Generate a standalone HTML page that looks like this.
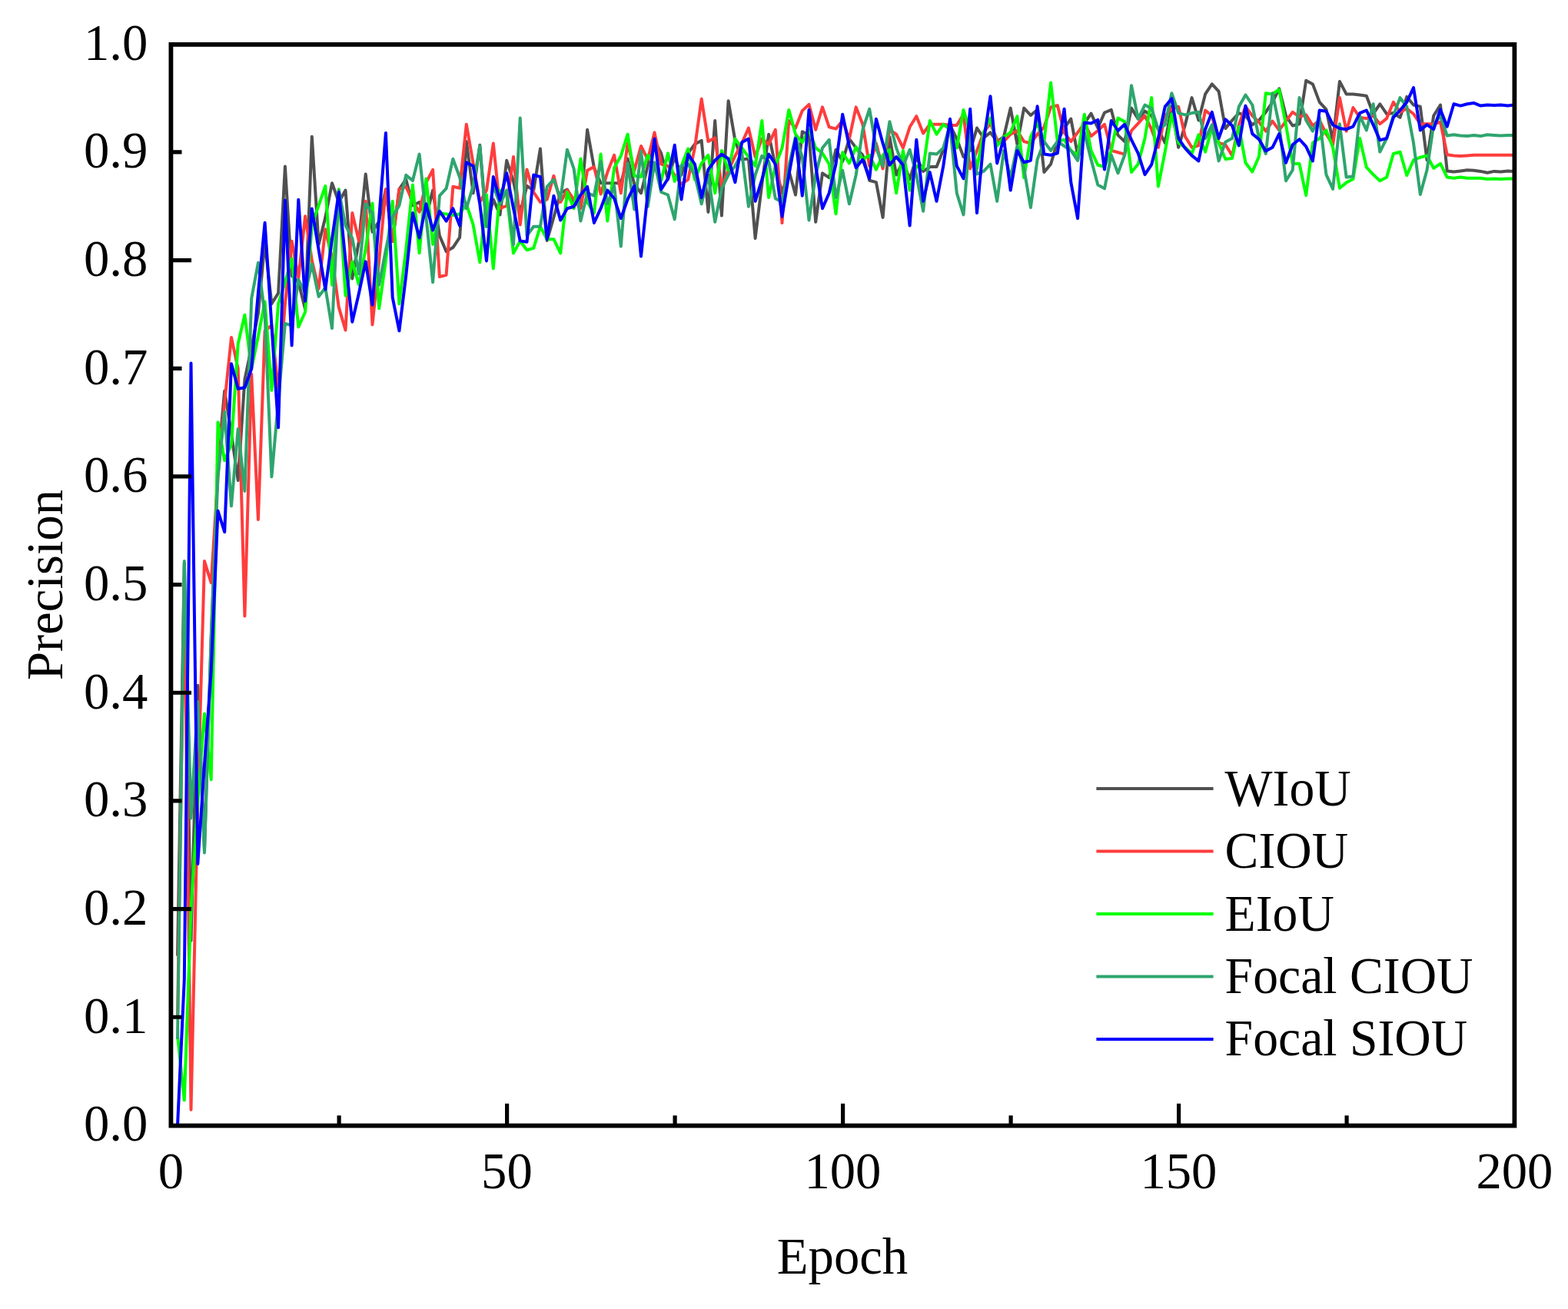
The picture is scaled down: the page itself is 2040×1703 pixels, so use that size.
<!DOCTYPE html>
<html lang="en">
<head>
<meta charset="utf-8">
<title>Precision vs Epoch</title>
<style>
html,body{margin:0;padding:0;background:#fff;}
body{width:2040px;height:1703px;overflow:hidden;}
svg{display:block;}
text{font-family:"Liberation Serif","Times New Roman",Times,serif;fill:#000;}
.tick{font-size:66.7px;}
.lab{font-size:66.7px;}
.leg{font-size:66.7px;}
</style>
</head>
<body>
<svg xmlns="http://www.w3.org/2000/svg" width="2040" height="1703" viewBox="0 0 2040 1703">
<rect x="0" y="0" width="2040" height="1703" fill="#ffffff"/>
<g fill="none" stroke-width="4.00" stroke-linejoin="round" stroke-linecap="butt">
<polyline stroke="#505050" points="231.0,1243.5 239.8,732.9 248.5,1223.8 257.3,891.8 266.0,1104.2 274.7,828.5 283.5,603.5 292.2,508.5 301.0,564.1 309.7,625.0 318.4,493.7 327.2,451.5 335.9,407.9 344.6,315.1 353.4,395.3 362.1,381.2 370.9,216.6 379.6,358.7 388.3,367.2 397.1,402.3 405.8,177.7 414.6,317.9 423.3,282.8 432.0,238.2 440.8,263.1 449.5,247.6 458.3,362.4 467.0,313.7 475.7,226.5 484.5,301.7 493.2,287.7 501.9,246.2 510.7,314.1 519.4,246.2 528.2,233.5 536.9,267.3 545.6,263.1 554.4,282.8 563.1,247.6 571.9,306.7 580.6,327.1 589.3,322.1 598.1,308.8 606.8,184.1 615.6,251.2 624.3,188.8 633.0,294.7 641.8,259.4 650.5,279.4 659.2,208.8 668.0,235.9 676.7,277.1 685.5,241.8 694.2,247.6 702.9,193.5 711.7,312.9 720.4,282.7 729.2,251.2 737.9,246.5 746.6,261.8 755.4,270.0 764.1,168.8 772.9,218.2 781.6,238.2 790.3,238.2 799.1,238.2 807.8,238.2 816.6,206.5 825.3,239.4 834.0,251.2 842.8,215.9 851.5,182.9 860.2,199.4 869.0,233.5 877.7,204.1 886.5,227.6 895.2,199.4 903.9,187.6 912.7,182.9 921.4,275.9 930.2,157.1 938.9,280.6 947.6,131.2 956.4,182.9 965.1,207.6 973.9,206.5 982.6,310.0 991.3,239.4 1000.1,174.7 1008.8,215.9 1017.5,251.2 1026.3,221.8 1035.0,253.5 1043.8,171.2 1052.5,175.9 1061.2,288.8 1070.0,225.3 1078.7,231.2 1087.5,194.7 1096.2,210.0 1104.9,180.6 1113.7,192.4 1122.4,201.8 1131.2,234.7 1139.9,237.1 1148.6,282.9 1157.4,178.2 1166.1,227.6 1174.9,210.0 1183.6,233.5 1192.3,204.1 1201.1,222.9 1209.8,217.1 1218.5,217.1 1227.3,194.7 1236.0,162.9 1244.8,180.6 1253.5,204.1 1262.2,195.9 1271.0,166.5 1279.7,179.4 1288.5,172.4 1297.2,184.1 1305.9,178.2 1314.7,140.6 1323.4,187.6 1332.2,140.6 1340.9,150.0 1349.6,142.9 1358.4,224.1 1367.1,213.5 1375.8,184.1 1384.6,166.5 1393.3,154.7 1402.1,201.8 1410.8,160.6 1419.5,147.6 1428.3,166.5 1437.0,146.5 1445.8,142.9 1454.5,175.9 1463.2,184.1 1472.0,140.6 1480.7,154.7 1489.5,144.7 1498.2,150.6 1506.9,168.2 1515.7,185.9 1524.4,138.8 1533.2,191.8 1541.9,162.4 1550.6,127.1 1559.4,156.5 1568.1,122.4 1576.8,109.4 1585.6,118.8 1594.3,167.1 1603.1,156.5 1611.8,147.1 1620.5,150.6 1629.3,162.4 1638.0,156.5 1646.8,145.9 1655.5,132.9 1664.2,115.3 1673.0,150.6 1681.7,163.5 1690.5,161.2 1699.2,104.7 1707.9,109.4 1716.7,132.9 1725.4,142.4 1734.1,183.5 1742.9,105.9 1751.6,122.4 1760.4,122.4 1769.1,123.5 1777.8,124.7 1786.6,148.2 1795.3,135.3 1804.1,148.2 1812.8,147.1 1821.5,152.9 1830.3,125.9 1839.0,136.5 1847.8,138.8 1856.5,208.2 1865.2,150.6 1874.0,136.5 1882.7,222.4 1891.4,223.5 1900.2,222.4 1908.9,221.2 1917.7,221.8 1926.4,222.9 1935.1,224.7 1943.9,222.9 1952.6,223.5 1961.4,222.4 1970.1,222.9"/>
<polyline stroke="#ff3c3c" points="231.0,1323.6 239.8,761.0 248.5,1443.8 257.3,1042.3 266.0,730.1 274.7,758.2 283.5,620.3 292.2,523.3 301.0,438.9 309.7,479.7 318.4,801.5 327.2,486.7 335.9,676.0 344.6,430.4 353.4,423.4 362.1,507.8 370.9,395.3 379.6,313.7 388.3,361.5 397.1,281.3 405.8,339.0 414.6,375.6 423.3,298.2 432.0,335.4 440.8,399.9 449.5,429.5 458.3,277.1 467.0,313.7 475.7,261.7 484.5,422.4 493.2,339.0 501.9,246.2 510.7,314.1 519.4,246.2 528.2,242.8 536.9,261.7 545.6,275.7 554.4,237.7 563.1,220.9 571.9,360.1 580.6,357.7 589.3,242.8 598.1,244.8 606.8,161.8 615.6,212.4 624.3,262.9 633.0,247.6 641.8,186.5 650.5,271.2 659.2,267.6 668.0,204.1 676.7,292.4 685.5,220.6 694.2,250.0 702.9,262.9 711.7,259.4 720.4,228.8 729.2,262.9 737.9,247.6 746.6,259.4 755.4,271.2 764.1,221.8 772.9,217.1 781.6,252.4 790.3,224.1 799.1,201.8 807.8,251.2 816.6,186.5 825.3,221.8 834.0,190.0 842.8,207.6 851.5,172.4 860.2,213.5 869.0,215.9 877.7,227.6 886.5,239.4 895.2,233.5 903.9,192.4 912.7,128.8 921.4,184.1 930.2,179.4 938.9,242.9 947.6,221.8 956.4,202.9 965.1,186.5 973.9,166.5 982.6,204.1 991.3,180.6 1000.1,187.6 1008.8,168.8 1017.5,290.0 1026.3,157.1 1035.0,166.5 1043.8,144.1 1052.5,135.9 1061.2,168.8 1070.0,139.4 1078.7,165.3 1087.5,167.6 1096.2,157.1 1104.9,180.6 1113.7,139.4 1122.4,161.8 1131.2,215.9 1139.9,186.5 1148.6,219.4 1157.4,168.8 1166.1,174.7 1174.9,192.4 1183.6,165.3 1192.3,151.2 1201.1,173.5 1209.8,161.8 1218.5,161.8 1227.3,161.8 1236.0,162.9 1244.8,162.9 1253.5,148.8 1262.2,219.4 1271.0,195.9 1279.7,172.4 1288.5,160.6 1297.2,181.8 1305.9,184.1 1314.7,174.7 1323.4,170.0 1332.2,184.1 1340.9,186.5 1349.6,174.7 1358.4,165.3 1367.1,139.4 1375.8,137.1 1384.6,172.4 1393.3,184.1 1402.1,172.4 1410.8,160.6 1419.5,177.1 1428.3,170.0 1437.0,161.8 1445.8,195.9 1454.5,198.2 1463.2,200.6 1472.0,170.0 1480.7,160.6 1489.5,150.6 1498.2,168.2 1506.9,191.8 1515.7,150.6 1524.4,141.2 1533.2,138.8 1541.9,177.6 1550.6,191.8 1559.4,189.4 1568.1,143.5 1576.8,150.6 1585.6,185.9 1594.3,188.2 1603.1,202.4 1611.8,162.4 1620.5,138.8 1629.3,150.6 1638.0,158.8 1646.8,170.6 1655.5,157.6 1664.2,169.4 1673.0,157.6 1681.7,145.9 1690.5,151.8 1699.2,149.4 1707.9,163.5 1716.7,156.5 1725.4,174.1 1734.1,188.2 1742.9,127.1 1751.6,170.6 1760.4,140.0 1769.1,152.9 1777.8,154.1 1786.6,150.6 1795.3,161.2 1804.1,154.1 1812.8,132.9 1821.5,145.9 1830.3,141.2 1839.0,148.2 1847.8,161.2 1856.5,161.2 1865.2,161.2 1874.0,158.8 1882.7,201.2 1891.4,202.4 1900.2,202.9 1908.9,202.4 1917.7,201.8 1926.4,201.8 1935.1,201.8 1943.9,201.8 1952.6,201.8 1961.4,201.8 1970.1,201.8"/>
<polyline stroke="#00ff00" points="231.0,1347.6 239.8,1431.5 248.5,1183.0 257.3,1042.3 266.0,928.4 274.7,1014.2 283.5,549.2 292.2,599.2 301.0,578.1 309.7,447.3 318.4,409.8 327.2,479.7 335.9,437.5 344.6,392.5 353.4,507.8 362.1,395.3 370.9,367.2 379.6,336.5 388.3,425.5 397.1,405.8 405.8,292.6 414.6,267.3 423.3,242.0 432.0,370.7 440.8,246.2 449.5,384.7 458.3,340.4 467.0,370.7 475.7,323.5 484.5,264.5 493.2,401.3 501.9,339.0 510.7,261.7 519.4,395.3 528.2,325.0 536.9,240.6 545.6,329.2 554.4,232.4 563.1,317.9 571.9,277.1 580.6,278.5 589.3,279.9 598.1,278.5 606.8,265.3 615.6,292.4 624.3,341.2 633.0,253.5 641.8,349.4 650.5,247.6 659.2,253.5 668.0,329.4 676.7,313.5 685.5,325.3 694.2,322.9 702.9,294.7 711.7,311.2 720.4,311.2 729.2,329.4 737.9,250.0 746.6,271.2 755.4,206.5 764.1,262.9 772.9,277.1 781.6,200.6 790.3,287.6 799.1,218.2 807.8,202.9 816.6,174.7 825.3,228.8 834.0,230.0 842.8,201.8 851.5,215.9 860.2,234.7 869.0,199.4 877.7,235.9 886.5,215.9 895.2,193.5 903.9,233.5 912.7,212.4 921.4,201.8 930.2,251.2 938.9,195.9 947.6,221.8 956.4,180.6 965.1,192.4 973.9,204.1 982.6,215.9 991.3,157.1 1000.1,257.1 1008.8,215.9 1017.5,192.4 1026.3,142.9 1035.0,174.7 1043.8,185.3 1052.5,168.8 1061.2,192.4 1070.0,199.4 1078.7,213.5 1087.5,278.2 1096.2,198.2 1104.9,212.4 1113.7,191.2 1122.4,207.6 1131.2,201.8 1139.9,220.6 1148.6,201.8 1157.4,194.7 1166.1,251.2 1174.9,195.9 1183.6,247.6 1192.3,215.9 1201.1,219.4 1209.8,157.1 1218.5,174.7 1227.3,161.8 1236.0,168.8 1244.8,192.4 1253.5,142.9 1262.2,172.4 1271.0,219.4 1279.7,172.4 1288.5,153.5 1297.2,190.0 1305.9,178.2 1314.7,172.4 1323.4,151.2 1332.2,231.2 1340.9,178.2 1349.6,160.6 1358.4,184.1 1367.1,107.6 1375.8,184.1 1384.6,181.8 1393.3,195.9 1402.1,201.8 1410.8,148.8 1419.5,195.9 1428.3,214.7 1437.0,217.1 1445.8,195.9 1454.5,153.5 1463.2,158.2 1472.0,224.1 1480.7,213.5 1489.5,180.0 1498.2,127.1 1506.9,242.4 1515.7,197.6 1524.4,148.2 1533.2,185.9 1541.9,191.8 1550.6,200.0 1559.4,175.3 1568.1,197.6 1576.8,165.9 1585.6,185.9 1594.3,207.1 1603.1,205.9 1611.8,164.7 1620.5,211.8 1629.3,223.5 1638.0,203.5 1646.8,121.2 1655.5,122.4 1664.2,116.5 1673.0,162.4 1681.7,212.9 1690.5,212.9 1699.2,254.1 1707.9,185.9 1716.7,180.0 1725.4,169.4 1734.1,191.8 1742.9,244.7 1751.6,237.6 1760.4,232.9 1769.1,180.0 1777.8,217.6 1786.6,227.1 1795.3,235.3 1804.1,230.6 1812.8,200.0 1821.5,197.6 1830.3,228.2 1839.0,208.2 1847.8,204.7 1856.5,202.4 1865.2,218.8 1874.0,212.9 1882.7,230.6 1891.4,231.8 1900.2,230.6 1908.9,231.8 1917.7,231.8 1926.4,231.8 1935.1,232.9 1943.9,232.4 1952.6,232.9 1961.4,232.4 1970.1,232.4"/>
<polyline stroke="#2ea56e" points="231.0,1351.8 239.8,730.1 248.5,1064.4 257.3,912.9 266.0,1109.4 274.7,831.3 283.5,620.3 292.2,535.9 301.0,658.3 309.7,557.9 318.4,639.0 327.2,388.3 335.9,341.8 344.6,409.4 353.4,620.3 362.1,521.9 370.9,421.0 379.6,423.4 388.3,363.8 397.1,381.2 405.8,343.8 414.6,385.9 423.3,374.2 432.0,427.1 440.8,247.6 449.5,293.4 458.3,309.9 467.0,356.3 475.7,265.3 484.5,277.1 493.2,370.7 501.9,325.0 510.7,282.8 519.4,267.3 528.2,227.9 536.9,234.9 545.6,200.6 554.4,282.8 563.1,367.2 571.9,254.6 580.6,245.2 589.3,206.8 598.1,230.7 606.8,271.2 615.6,241.8 624.3,190.0 633.0,294.7 641.8,241.8 650.5,265.3 659.2,247.6 668.0,318.2 676.7,153.5 685.5,306.5 694.2,294.7 702.9,294.7 711.7,242.9 720.4,233.5 729.2,259.4 737.9,194.7 746.6,219.4 755.4,287.6 764.1,251.2 772.9,254.7 781.6,210.0 790.3,265.3 799.1,241.8 807.8,320.6 816.6,212.4 825.3,272.4 834.0,197.1 842.8,268.8 851.5,211.2 860.2,250.0 869.0,253.5 877.7,285.3 886.5,215.9 895.2,213.5 903.9,227.6 912.7,265.3 921.4,227.6 930.2,288.8 938.9,245.3 947.6,227.6 956.4,215.9 965.1,198.2 973.9,268.8 982.6,227.6 991.3,202.9 1000.1,210.0 1008.8,258.2 1017.5,262.9 1026.3,215.9 1035.0,178.2 1043.8,204.1 1052.5,286.5 1061.2,227.6 1070.0,192.4 1078.7,181.8 1087.5,257.1 1096.2,221.8 1104.9,265.3 1113.7,227.6 1122.4,168.8 1131.2,141.8 1139.9,192.4 1148.6,215.9 1157.4,158.2 1166.1,192.4 1174.9,215.9 1183.6,194.7 1192.3,227.6 1201.1,274.7 1209.8,199.4 1218.5,200.6 1227.3,192.4 1236.0,162.9 1244.8,251.2 1253.5,279.4 1262.2,172.4 1271.0,226.5 1279.7,222.9 1288.5,213.5 1297.2,261.8 1305.9,195.9 1314.7,231.2 1323.4,190.0 1332.2,219.4 1340.9,270.0 1349.6,207.6 1358.4,184.1 1367.1,195.9 1375.8,184.1 1384.6,190.0 1393.3,195.9 1402.1,208.8 1410.8,172.4 1419.5,207.6 1428.3,240.6 1437.0,245.3 1445.8,201.8 1454.5,225.3 1463.2,201.8 1472.0,111.2 1480.7,154.7 1489.5,136.5 1498.2,141.2 1506.9,168.2 1515.7,162.4 1524.4,121.2 1533.2,147.1 1541.9,149.4 1550.6,147.1 1559.4,145.9 1568.1,180.0 1576.8,162.4 1585.6,209.4 1594.3,184.7 1603.1,180.0 1611.8,138.8 1620.5,123.5 1629.3,136.5 1638.0,180.0 1646.8,200.0 1655.5,121.2 1664.2,162.4 1673.0,235.3 1681.7,221.2 1690.5,127.1 1699.2,156.5 1707.9,170.6 1716.7,152.9 1725.4,227.1 1734.1,245.9 1742.9,161.2 1751.6,230.6 1760.4,229.4 1769.1,150.6 1777.8,169.4 1786.6,135.3 1795.3,197.6 1804.1,180.0 1812.8,150.6 1821.5,127.1 1830.3,138.8 1839.0,185.9 1847.8,252.9 1856.5,221.2 1865.2,162.4 1874.0,150.6 1882.7,176.5 1891.4,175.3 1900.2,176.5 1908.9,177.1 1917.7,175.9 1926.4,177.1 1935.1,175.3 1943.9,175.9 1952.6,176.5 1961.4,175.9 1970.1,175.9"/>
<polyline stroke="#0000ff" points="231.0,1464.3 239.8,1274.4 248.5,472.6 257.3,1123.9 266.0,994.5 274.7,873.5 283.5,664.6 292.2,692.1 301.0,473.2 309.7,505.8 318.4,504.2 327.2,479.7 335.9,381.2 344.6,289.8 353.4,423.4 362.1,556.2 370.9,260.5 379.6,449.4 388.3,259.7 397.1,391.8 405.8,271.5 414.6,325.0 423.3,376.4 432.0,310.9 440.8,250.0 449.5,339.0 458.3,418.8 467.0,381.2 475.7,340.4 484.5,396.7 493.2,282.8 501.9,172.9 510.7,386.8 519.4,430.4 528.2,358.7 536.9,277.1 545.6,309.5 554.4,265.3 563.1,299.5 571.9,274.7 580.6,287.7 589.3,271.2 598.1,293.6 606.8,211.2 615.6,215.9 624.3,265.3 633.0,339.4 641.8,230.0 650.5,260.6 659.2,225.3 668.0,271.2 676.7,313.5 685.5,314.7 694.2,227.6 702.9,230.0 711.7,311.2 720.4,254.7 729.2,286.5 737.9,271.2 746.6,268.8 755.4,253.5 764.1,242.9 772.9,290.0 781.6,271.2 790.3,247.6 799.1,258.2 807.8,284.1 816.6,259.4 825.3,241.8 834.0,333.5 842.8,251.2 851.5,180.6 860.2,246.5 869.0,232.4 877.7,188.8 886.5,259.4 895.2,200.6 903.9,213.5 912.7,257.1 921.4,220.6 930.2,208.8 938.9,200.6 947.6,206.5 956.4,237.1 965.1,185.3 973.9,180.6 982.6,261.8 991.3,233.5 1000.1,200.6 1008.8,213.5 1017.5,281.8 1026.3,227.6 1035.0,180.6 1043.8,254.7 1052.5,142.9 1061.2,215.9 1070.0,271.2 1078.7,251.2 1087.5,213.5 1096.2,148.8 1104.9,190.0 1113.7,218.2 1122.4,207.6 1131.2,232.4 1139.9,154.7 1148.6,186.5 1157.4,214.7 1166.1,204.1 1174.9,214.7 1183.6,293.5 1192.3,181.8 1201.1,261.8 1209.8,224.1 1218.5,261.8 1227.3,215.9 1236.0,154.7 1244.8,215.9 1253.5,232.4 1262.2,141.8 1271.0,277.1 1279.7,184.1 1288.5,125.3 1297.2,212.4 1305.9,179.4 1314.7,247.6 1323.4,195.9 1332.2,211.2 1340.9,208.8 1349.6,138.2 1358.4,200.6 1367.1,201.8 1375.8,199.4 1384.6,141.8 1393.3,237.1 1402.1,284.1 1410.8,159.4 1419.5,160.6 1428.3,155.9 1437.0,220.6 1445.8,157.1 1454.5,170.0 1463.2,161.8 1472.0,181.8 1480.7,199.4 1489.5,227.1 1498.2,214.1 1506.9,180.0 1515.7,138.8 1524.4,128.2 1533.2,180.0 1541.9,192.9 1550.6,202.4 1559.4,209.4 1568.1,168.2 1576.8,145.9 1585.6,180.0 1594.3,155.3 1603.1,163.5 1611.8,189.4 1620.5,137.6 1629.3,174.1 1638.0,181.2 1646.8,196.5 1655.5,191.8 1664.2,174.1 1673.0,211.8 1681.7,188.2 1690.5,181.2 1699.2,190.6 1707.9,209.4 1716.7,143.5 1725.4,144.7 1734.1,162.4 1742.9,167.1 1751.6,168.2 1760.4,164.7 1769.1,147.1 1777.8,143.5 1786.6,162.4 1795.3,182.4 1804.1,180.0 1812.8,152.9 1821.5,143.5 1830.3,132.9 1839.0,114.1 1847.8,169.4 1856.5,162.4 1865.2,168.2 1874.0,142.4 1882.7,164.7 1891.4,135.3 1900.2,137.6 1908.9,135.3 1917.7,134.1 1926.4,137.6 1935.1,136.5 1943.9,137.1 1952.6,136.5 1961.4,137.6 1970.1,136.5"/>
</g>
<g stroke="#000" stroke-width="5.80" fill="none" stroke-linecap="butt">
<rect x="222.40" y="57.90" width="1748.00" height="1406.60"/>
<path stroke-width="5.20" d="M222.40 1323.24h14.10M222.40 1182.58h26.60M222.40 1041.92h14.10M222.40 901.26h26.60M222.40 760.60h14.10M222.40 619.94h26.60M222.40 479.28h14.10M222.40 338.62h26.60M222.40 197.96h14.10M441.10 1464.50v-13.30M659.60 1464.50v-28.80M878.10 1464.50v-13.30M1096.60 1464.50v-28.80M1315.10 1464.50v-13.30M1533.60 1464.50v-28.80M1752.10 1464.50v-13.30"/>
</g>
<g class="tick">
<text x="192.3" y="1484.3" text-anchor="end">0.0</text>
<text x="192.3" y="1343.6" text-anchor="end">0.1</text>
<text x="192.3" y="1203.0" text-anchor="end">0.2</text>
<text x="192.3" y="1062.3" text-anchor="end">0.3</text>
<text x="192.3" y="921.7" text-anchor="end">0.4</text>
<text x="192.3" y="781.0" text-anchor="end">0.5</text>
<text x="192.3" y="640.3" text-anchor="end">0.6</text>
<text x="192.3" y="499.7" text-anchor="end">0.7</text>
<text x="192.3" y="359.0" text-anchor="end">0.8</text>
<text x="192.3" y="218.4" text-anchor="end">0.9</text>
<text x="192.3" y="77.7" text-anchor="end">1.0</text>
<text x="222.4" y="1545.6" text-anchor="middle">0</text>
<text x="659.4" y="1545.6" text-anchor="middle">50</text>
<text x="1096.4" y="1545.6" text-anchor="middle">100</text>
<text x="1533.4" y="1545.6" text-anchor="middle">150</text>
<text x="1970.4" y="1545.6" text-anchor="middle">200</text>
</g>
<text class="lab" x="1096" y="1657" text-anchor="middle">Epoch</text>
<text class="lab" transform="translate(80.7,761) rotate(-90)" text-anchor="middle">Precision</text>
<g>
<line x1="1426.4" x2="1578.6" y1="1026.1" y2="1026.1" stroke="#505050" stroke-width="4.00"/>
<text class="leg" transform="translate(1593.6,1047.6) scale(0.985,1)">WIoU</text>
<line x1="1426.4" x2="1578.6" y1="1107.5" y2="1107.5" stroke="#ff3c3c" stroke-width="4.00"/>
<text class="leg" transform="translate(1593.6,1129.0) scale(0.985,1)">CIOU</text>
<line x1="1426.4" x2="1578.6" y1="1189.0" y2="1189.0" stroke="#00ff00" stroke-width="4.00"/>
<text class="leg" transform="translate(1593.6,1210.5) scale(0.985,1)">EIoU</text>
<line x1="1426.4" x2="1578.6" y1="1270.5" y2="1270.5" stroke="#2ea56e" stroke-width="4.00"/>
<text class="leg" transform="translate(1593.6,1292.0) scale(0.985,1)">Focal CIOU</text>
<line x1="1426.4" x2="1578.6" y1="1351.9" y2="1351.9" stroke="#0000ff" stroke-width="4.00"/>
<text class="leg" transform="translate(1593.6,1373.4) scale(0.985,1)">Focal SIOU</text>
</g>
</svg>
</body>
</html>
